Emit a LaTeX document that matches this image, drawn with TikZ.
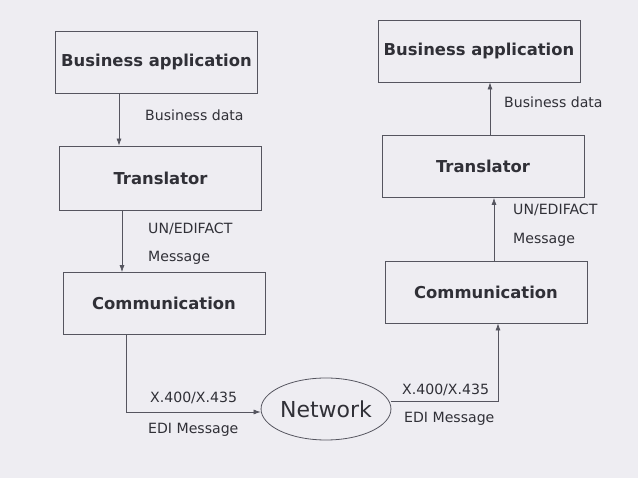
\documentclass[tikz,border=0pt]{standalone}
\usepackage{fontspec}
\setmainfont{DejaVu Sans}
\usetikzlibrary{arrows.meta,shapes.geometric}
\definecolor{bgc}{RGB}{238,237,242}
\definecolor{txt}{RGB}{48,48,55}
\definecolor{ln}{RGB}{85,85,95}
\tikzset{
  box/.style={draw=ln,line width=0.8pt,minimum width=202pt,minimum height=62pt,inner sep=0pt,
    font=\fontsize{16.4}{19}\selectfont\bfseries,text=txt},
  lbl/.style={anchor=west,inner sep=0pt,font=\fontsize{14.1}{17}\selectfont,text=txt},
  conn/.style={draw=ln,line width=0.7pt},
  arr/.style={conn,-{Latex[length=7pt,width=5pt]}}
}
\begin{document}
\begin{tikzpicture}[x=1pt,y=-1pt]
\fill[bgc] (0,0) rectangle (638,478);
\useasboundingbox (0,0) rectangle (638,478);
% left column
\node[box] (ba1) at (156.5,62) {Business application};
\node[box,minimum height=64pt] (tr1) at (160.5,178) {Translator};
\node[box] (co1) at (164,303.5) {Communication};
% right column
\node[box] (ba2) at (479,51) {Business application};
\node[box] (tr2) at (483,166.5) {Translator};
\node[box] (co2) at (486,292) {Communication};
% network
\node[ellipse,draw=ln,line width=0.8pt,minimum width=128pt,minimum height=62pt,inner sep=0pt,
  font=\fontsize{22}{25}\selectfont,text=txt] (net) at (326,409) {Network};
% x positions of connectors
\coordinate (a1) at (119,0);
\coordinate (a2) at (122,0);
\coordinate (a3) at (126,412);
\coordinate (b1) at (490,0);
\coordinate (b2) at (494,0);
\coordinate (b3) at (498,401);
% left connectors
\draw[arr] (ba1.south -| a1) -- (tr1.north -| a1);
\draw[arr] (tr1.south -| a2) -- (co1.north -| a2);
\draw[arr] (co1.south -| a3) -- (a3) -- (net.west |- a3);
% right connectors
\draw[arr] (net.east |- b3) -- (b3) -- (co2.south -| b3);
\draw[arr] (co2.north -| b2) -- (tr2.south -| b2);
\draw[arr] (tr2.north -| b1) -- (ba2.south -| b1);
% labels
\node[lbl] (l1) at (145,115) {Business data};
\node[lbl] (l2) at (148,229) {UN/EDIFACT};
\node[lbl] (l3) at (148,258) {Message};
\node[lbl] (l4) at (150,398) {X.400/X.435};
\node[lbl] (l5) at (148,430) {EDI Message};
\node[lbl] (r1) at (504,102) {Business data};
\node[lbl] (r2) at (513,210) {UN/EDIFACT};
\node[lbl] (r3) at (513,240) {Message};
\node[lbl] (r4) at (402,390) {X.400/X.435};
\node[lbl] (r5) at (404,419) {EDI Message};
\end{tikzpicture}
\end{document}
